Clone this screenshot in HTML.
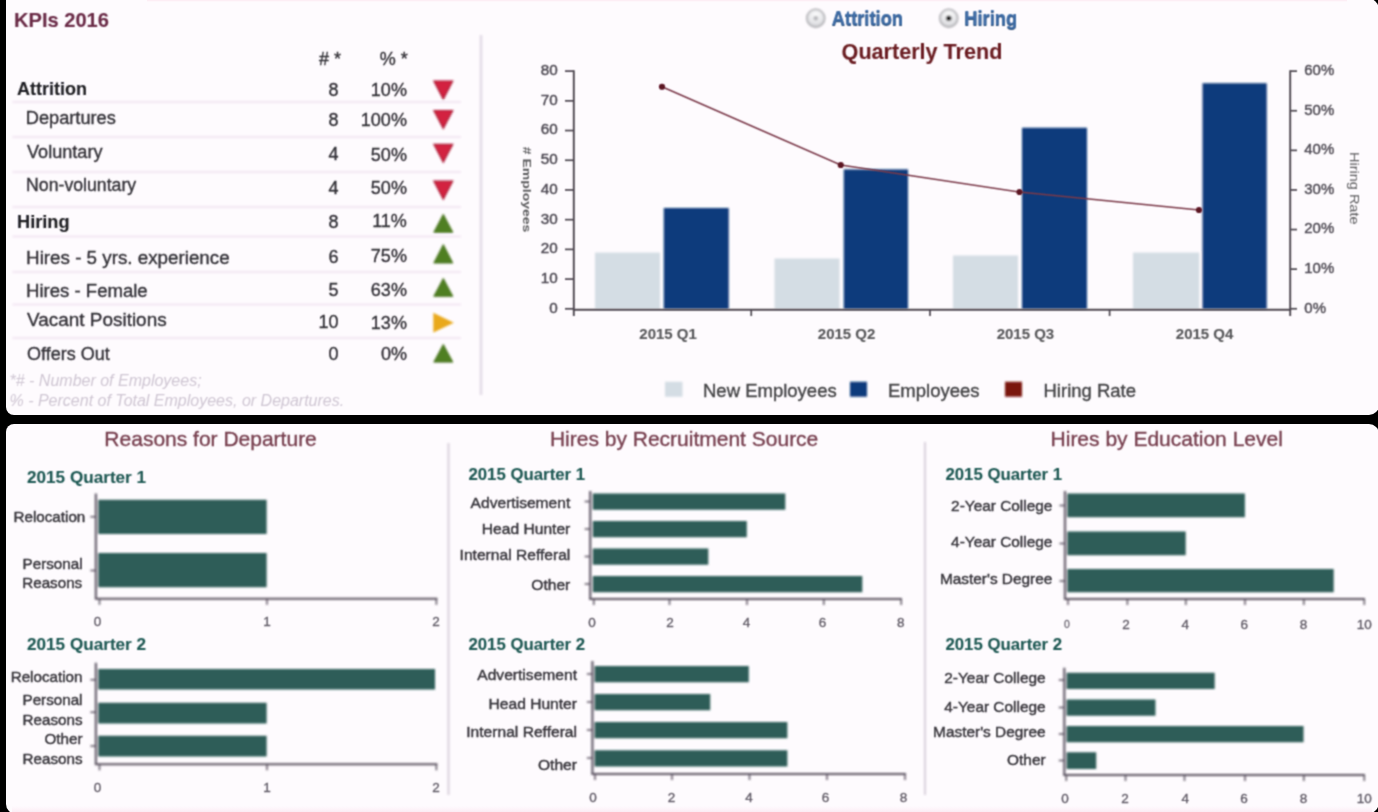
<!DOCTYPE html>
<html><head><meta charset="utf-8"><title>KPIs 2016</title>
<style>
html,body{margin:0;padding:0;background:#000;}
body{width:1378px;height:812px;overflow:hidden;}
svg{display:block;position:absolute;left:0;top:0;}
svg text{font-family:"Liberation Sans",sans-serif;}
</style></head><body>
<svg width="1378" height="812" viewBox="0 0 1378 812">
<defs>
<radialGradient id="rg" cx="50%" cy="35%" r="70%"><stop offset="0" stop-color="#ffffff"/><stop offset="0.6" stop-color="#e4e4e7"/><stop offset="1" stop-color="#c4c4c8"/></radialGradient>
<filter id="tsoft" x="-1%" y="-1%" width="102%" height="102%"><feConvolveMatrix order="3" kernelMatrix="0.0509 0.1238 0.0509 0.1238 0.3012 0.1238 0.0509 0.1238 0.0509" divisor="1" edgeMode="none"/></filter>
<filter id="soft" x="-2%" y="-2%" width="104%" height="104%"><feGaussianBlur stdDeviation="0.8"/></filter>
</defs>
<rect x="0" y="0" width="1378" height="812" fill="#000"/>
<path d="M6,-2 L1367,-2 A12,12 0 0 1 1379,10 L1379,405 A10,10 0 0 1 1369,415 L14,415 A8,8 0 0 1 6,407 Z" fill="#fefbfe"/>
<path d="M14,424 L1369,424 A10,10 0 0 1 1379,434 L1379,802 A12,12 0 0 1 1367,814 L16,814 A10,10 0 0 1 6,804 L6,432 A8,8 0 0 1 14,424 Z" fill="#fefbfe"/>
<rect x="147" y="0" width="1200" height="1.3" fill="#fdeef5"/>
<linearGradient id="pg" x1="0" y1="0" x2="0" y2="1"><stop offset="0" stop-color="#fdeef6" stop-opacity="0"/><stop offset="1" stop-color="#fcecf4"/></linearGradient>
<rect x="12" y="806" width="1360" height="6" fill="url(#pg)"/>
<g filter="url(#soft)">
<polygon points="433.90000000000003,81.0 452.7,81.0 443.3,99.1" fill="#d3203f" stroke="#a91b34" stroke-width="1.2" stroke-linejoin="miter"/>
<polygon points="433.90000000000003,110.5 452.7,110.5 443.3,128.4" fill="#d3203f" stroke="#a91b34" stroke-width="1.2" stroke-linejoin="miter"/>
<polygon points="433.90000000000003,144.3 452.7,144.3 443.3,162.1" fill="#d3203f" stroke="#a91b34" stroke-width="1.2" stroke-linejoin="miter"/>
<polygon points="433.90000000000003,181.2 452.7,181.2 443.3,199.1" fill="#d3203f" stroke="#a91b34" stroke-width="1.2" stroke-linejoin="miter"/>
<polygon points="433.8,232.3 452.8,232.3 443.3,214.3" fill="#4f7f20" stroke="#46701f" stroke-width="1" stroke-linejoin="miter"/>
<polygon points="433.8,263.0 452.8,263.0 443.3,244.60000000000002" fill="#4f7f20" stroke="#46701f" stroke-width="1" stroke-linejoin="miter"/>
<polygon points="433.8,296.3 452.8,296.3 443.3,278.40000000000003" fill="#4f7f20" stroke="#46701f" stroke-width="1" stroke-linejoin="miter"/>
<polygon points="433.3,312.8 433.3,332.5 453.8,322.65" fill="#e9a91b"/>
<polygon points="433.8,362.1 452.8,362.1 443.3,344.40000000000003" fill="#4f7f20" stroke="#46701f" stroke-width="1" stroke-linejoin="miter"/>
<line x1="12.50" y1="102.00" x2="461.00" y2="102.00" stroke="#f3e6f3" stroke-width="1.8" />
<line x1="12.50" y1="137.00" x2="461.00" y2="137.00" stroke="#f3e6f3" stroke-width="1.8" />
<line x1="12.50" y1="172.00" x2="461.00" y2="172.00" stroke="#f3e6f3" stroke-width="1.8" />
<line x1="12.50" y1="207.00" x2="461.00" y2="207.00" stroke="#f3e6f3" stroke-width="1.8" />
<line x1="12.50" y1="236.50" x2="461.00" y2="236.50" stroke="#f3e6f3" stroke-width="1.8" />
<line x1="12.50" y1="272.00" x2="461.00" y2="272.00" stroke="#f3e6f3" stroke-width="1.8" />
<line x1="12.50" y1="304.50" x2="461.00" y2="304.50" stroke="#f3e6f3" stroke-width="1.8" />
<line x1="12.50" y1="338.00" x2="461.00" y2="338.00" stroke="#f3e6f3" stroke-width="1.8" />
<line x1="481.00" y1="35.00" x2="481.00" y2="395.00" stroke="#e2dbe6" stroke-width="2.6" />
<circle cx="815.75" cy="18.25" r="9" fill="url(#rg)" stroke="#a9a9ad" stroke-width="1.4"/>
<circle cx="815.75" cy="18.25" r="2.4" fill="#b9b9bd"/>
<circle cx="948.75" cy="18.25" r="9" fill="url(#rg)" stroke="#a9a9ad" stroke-width="1.4"/>
<circle cx="948.75" cy="18.25" r="2.8" fill="#1b1b1d"/>
<rect x="595.00" y="252.55" width="65.00" height="56.45" fill="#d4dde4" />
<rect x="663.75" y="207.99" width="65.00" height="101.01" fill="#0e3b7b" />
<rect x="774.50" y="258.49" width="65.00" height="50.51" fill="#d4dde4" />
<rect x="843.75" y="169.36" width="64.25" height="139.64" fill="#0e3b7b" />
<rect x="953.00" y="255.52" width="65.00" height="53.48" fill="#d4dde4" />
<rect x="1022.00" y="127.77" width="65.00" height="181.23" fill="#0e3b7b" />
<rect x="1133.00" y="252.55" width="66.25" height="56.45" fill="#d4dde4" />
<rect x="1202.50" y="83.20" width="64.25" height="225.80" fill="#0e3b7b" />
<rect x="665.00" y="381.75" width="17.50" height="15.00" fill="#d4dde4" />
<rect x="850.00" y="381.75" width="17.00" height="15.00" fill="#0e3b7b" />
<rect x="1005.00" y="381.75" width="17.00" height="15.00" fill="#7a1311" />
<line x1="448.50" y1="443.00" x2="448.50" y2="795.00" stroke="#d9d0dc" stroke-width="2" />
<line x1="925.00" y1="442.00" x2="925.00" y2="795.00" stroke="#d9d0dc" stroke-width="2" />
<rect x="98.25" y="499.75" width="168.40" height="34.25" fill="#2f5d58" />
<rect x="98.25" y="553.00" width="168.40" height="34.25" fill="#2f5d58" />
<line x1="95.90" y1="493.50" x2="95.90" y2="598.80" stroke="#6a6371" stroke-width="2.3" />
<line x1="94.90" y1="598.80" x2="437.40" y2="598.80" stroke="#5b5360" stroke-width="2.0" />
<line x1="99.50" y1="598.30" x2="99.50" y2="604.80" stroke="#5b5360" stroke-width="1.5" />
<line x1="267.00" y1="598.30" x2="267.00" y2="604.80" stroke="#5b5360" stroke-width="1.5" />
<line x1="436.40" y1="598.30" x2="436.40" y2="604.80" stroke="#5b5360" stroke-width="1.5" />
<line x1="90.40" y1="516.75" x2="95.90" y2="516.75" stroke="#5b5360" stroke-width="1.5" />
<line x1="90.40" y1="570.50" x2="95.90" y2="570.50" stroke="#5b5360" stroke-width="1.5" />
<rect x="98.25" y="669.00" width="336.80" height="20.50" fill="#2f5d58" />
<rect x="98.25" y="702.75" width="168.40" height="20.75" fill="#2f5d58" />
<rect x="98.25" y="735.75" width="168.40" height="20.75" fill="#2f5d58" />
<line x1="95.90" y1="662.75" x2="95.90" y2="764.30" stroke="#6a6371" stroke-width="2.3" />
<line x1="94.90" y1="764.30" x2="437.40" y2="764.30" stroke="#5b5360" stroke-width="2.0" />
<line x1="99.50" y1="763.80" x2="99.50" y2="770.30" stroke="#5b5360" stroke-width="1.5" />
<line x1="267.00" y1="763.80" x2="267.00" y2="770.30" stroke="#5b5360" stroke-width="1.5" />
<line x1="436.40" y1="763.80" x2="436.40" y2="770.30" stroke="#5b5360" stroke-width="1.5" />
<line x1="90.40" y1="679.75" x2="95.90" y2="679.75" stroke="#5b5360" stroke-width="1.5" />
<line x1="90.40" y1="712.25" x2="95.90" y2="712.25" stroke="#5b5360" stroke-width="1.5" />
<line x1="90.40" y1="746.00" x2="95.90" y2="746.00" stroke="#5b5360" stroke-width="1.5" />
<rect x="592.80" y="493.50" width="192.50" height="16.25" fill="#2f5d58" />
<rect x="592.80" y="521.00" width="154.00" height="16.25" fill="#2f5d58" />
<rect x="592.80" y="548.50" width="115.50" height="16.25" fill="#2f5d58" />
<rect x="592.80" y="576.00" width="269.50" height="16.25" fill="#2f5d58" />
<line x1="590.20" y1="491.00" x2="590.20" y2="599.00" stroke="#6a6371" stroke-width="2.3" />
<line x1="589.20" y1="599.00" x2="902.00" y2="599.00" stroke="#5b5360" stroke-width="2.0" />
<line x1="593.75" y1="598.50" x2="593.75" y2="605.00" stroke="#5b5360" stroke-width="1.5" />
<line x1="669.50" y1="598.50" x2="669.50" y2="605.00" stroke="#5b5360" stroke-width="1.5" />
<line x1="747.00" y1="598.50" x2="747.00" y2="605.00" stroke="#5b5360" stroke-width="1.5" />
<line x1="823.75" y1="598.50" x2="823.75" y2="605.00" stroke="#5b5360" stroke-width="1.5" />
<line x1="901.25" y1="598.50" x2="901.25" y2="605.00" stroke="#5b5360" stroke-width="1.5" />
<line x1="584.70" y1="501.50" x2="590.20" y2="501.50" stroke="#5b5360" stroke-width="1.5" />
<line x1="584.70" y1="529.00" x2="590.20" y2="529.00" stroke="#5b5360" stroke-width="1.5" />
<line x1="584.70" y1="556.50" x2="590.20" y2="556.50" stroke="#5b5360" stroke-width="1.5" />
<line x1="584.70" y1="584.00" x2="590.20" y2="584.00" stroke="#5b5360" stroke-width="1.5" />
<rect x="594.60" y="666.00" width="154.20" height="16.25" fill="#2f5d58" />
<rect x="594.60" y="694.00" width="115.65" height="16.25" fill="#2f5d58" />
<rect x="594.60" y="722.00" width="192.75" height="16.25" fill="#2f5d58" />
<rect x="594.60" y="750.25" width="192.75" height="16.25" fill="#2f5d58" />
<line x1="592.40" y1="661.00" x2="592.40" y2="774.00" stroke="#6a6371" stroke-width="2.3" />
<line x1="591.40" y1="774.00" x2="906.00" y2="774.00" stroke="#5b5360" stroke-width="2.0" />
<line x1="595.00" y1="773.50" x2="595.00" y2="780.00" stroke="#5b5360" stroke-width="1.5" />
<line x1="672.00" y1="773.50" x2="672.00" y2="780.00" stroke="#5b5360" stroke-width="1.5" />
<line x1="749.50" y1="773.50" x2="749.50" y2="780.00" stroke="#5b5360" stroke-width="1.5" />
<line x1="827.00" y1="773.50" x2="827.00" y2="780.00" stroke="#5b5360" stroke-width="1.5" />
<line x1="905.00" y1="773.50" x2="905.00" y2="780.00" stroke="#5b5360" stroke-width="1.5" />
<line x1="586.90" y1="674.00" x2="592.40" y2="674.00" stroke="#5b5360" stroke-width="1.5" />
<line x1="586.90" y1="702.00" x2="592.40" y2="702.00" stroke="#5b5360" stroke-width="1.5" />
<line x1="586.90" y1="730.00" x2="592.40" y2="730.00" stroke="#5b5360" stroke-width="1.5" />
<line x1="586.90" y1="758.00" x2="592.40" y2="758.00" stroke="#5b5360" stroke-width="1.5" />
<rect x="1067.30" y="493.50" width="177.60" height="23.75" fill="#2f5d58" />
<rect x="1067.30" y="531.50" width="118.40" height="23.75" fill="#2f5d58" />
<rect x="1067.30" y="569.00" width="266.40" height="23.25" fill="#2f5d58" />
<line x1="1065.00" y1="491.00" x2="1065.00" y2="599.00" stroke="#6a6371" stroke-width="2.3" />
<line x1="1064.00" y1="599.00" x2="1365.00" y2="599.00" stroke="#5b5360" stroke-width="2.0" />
<line x1="1068.00" y1="598.50" x2="1068.00" y2="605.00" stroke="#5b5360" stroke-width="1.5" />
<line x1="1127.40" y1="598.50" x2="1127.40" y2="605.00" stroke="#5b5360" stroke-width="1.5" />
<line x1="1185.80" y1="598.50" x2="1185.80" y2="605.00" stroke="#5b5360" stroke-width="1.5" />
<line x1="1245.00" y1="598.50" x2="1245.00" y2="605.00" stroke="#5b5360" stroke-width="1.5" />
<line x1="1303.80" y1="598.50" x2="1303.80" y2="605.00" stroke="#5b5360" stroke-width="1.5" />
<line x1="1364.30" y1="598.50" x2="1364.30" y2="605.00" stroke="#5b5360" stroke-width="1.5" />
<line x1="1059.50" y1="505.50" x2="1065.00" y2="505.50" stroke="#5b5360" stroke-width="1.5" />
<line x1="1059.50" y1="543.50" x2="1065.00" y2="543.50" stroke="#5b5360" stroke-width="1.5" />
<line x1="1059.50" y1="581.00" x2="1065.00" y2="581.00" stroke="#5b5360" stroke-width="1.5" />
<rect x="1066.60" y="672.75" width="148.10" height="16.25" fill="#2f5d58" />
<rect x="1066.60" y="699.50" width="88.86" height="16.25" fill="#2f5d58" />
<rect x="1066.60" y="726.00" width="236.96" height="16.25" fill="#2f5d58" />
<rect x="1066.60" y="752.25" width="29.62" height="16.75" fill="#2f5d58" />
<line x1="1064.30" y1="667.75" x2="1064.30" y2="775.00" stroke="#6a6371" stroke-width="2.3" />
<line x1="1063.30" y1="775.00" x2="1365.00" y2="775.00" stroke="#5b5360" stroke-width="2.0" />
<line x1="1066.30" y1="774.50" x2="1066.30" y2="781.00" stroke="#5b5360" stroke-width="1.5" />
<line x1="1125.50" y1="774.50" x2="1125.50" y2="781.00" stroke="#5b5360" stroke-width="1.5" />
<line x1="1184.50" y1="774.50" x2="1184.50" y2="781.00" stroke="#5b5360" stroke-width="1.5" />
<line x1="1245.00" y1="774.50" x2="1245.00" y2="781.00" stroke="#5b5360" stroke-width="1.5" />
<line x1="1303.80" y1="774.50" x2="1303.80" y2="781.00" stroke="#5b5360" stroke-width="1.5" />
<line x1="1364.30" y1="774.50" x2="1364.30" y2="781.00" stroke="#5b5360" stroke-width="1.5" />
<line x1="1058.80" y1="680.00" x2="1064.30" y2="680.00" stroke="#5b5360" stroke-width="1.5" />
<line x1="1058.80" y1="707.50" x2="1064.30" y2="707.50" stroke="#5b5360" stroke-width="1.5" />
<line x1="1058.80" y1="734.00" x2="1064.30" y2="734.00" stroke="#5b5360" stroke-width="1.5" />
<line x1="1058.80" y1="760.50" x2="1064.30" y2="760.50" stroke="#5b5360" stroke-width="1.5" />
</g>
<g filter="url(#tsoft)">
<text x="14.0" y="26.8" font-size="20.1" fill="#6a2c47" font-weight="bold" font-style="normal" text-anchor="start" stroke="#6a2c47" stroke-width="0.12" >KPIs 2016</text>
<text x="341" y="64.5" font-size="18" fill="#343238" font-weight="normal" font-style="normal" text-anchor="end" stroke="#343238" stroke-width="0.35" ># *</text>
<text x="407.8" y="64.5" font-size="18" fill="#343238" font-weight="normal" font-style="normal" text-anchor="end" stroke="#343238" stroke-width="0.35" >% *</text>
<text x="17.0" y="94.5" font-size="18" fill="#1f1f22" font-weight="bold" font-style="normal" text-anchor="start" stroke="#1f1f22" stroke-width="0.12"  textLength="69.98" lengthAdjust="spacingAndGlyphs">Attrition</text>
<text x="338.6" y="96" font-size="18" fill="#343238" font-weight="normal" font-style="normal" text-anchor="end" stroke="#343238" stroke-width="0.35" >8</text>
<text x="406.9" y="96" font-size="18" fill="#343238" font-weight="normal" font-style="normal" text-anchor="end" stroke="#343238" stroke-width="0.35" >10%</text>
<text x="25.8" y="123.75" font-size="18" fill="#343238" font-weight="normal" font-style="normal" text-anchor="start" stroke="#343238" stroke-width="0.35"  textLength="90.02" lengthAdjust="spacingAndGlyphs">Departures</text>
<text x="338.6" y="125.5" font-size="18" fill="#343238" font-weight="normal" font-style="normal" text-anchor="end" stroke="#343238" stroke-width="0.35" >8</text>
<text x="406.9" y="125.6" font-size="18" fill="#343238" font-weight="normal" font-style="normal" text-anchor="end" stroke="#343238" stroke-width="0.35" >100%</text>
<text x="27.0" y="158" font-size="18" fill="#343238" font-weight="normal" font-style="normal" text-anchor="start" stroke="#343238" stroke-width="0.35"  textLength="75.50" lengthAdjust="spacingAndGlyphs">Voluntary</text>
<text x="338.6" y="160" font-size="18" fill="#343238" font-weight="normal" font-style="normal" text-anchor="end" stroke="#343238" stroke-width="0.35" >4</text>
<text x="406.9" y="160.5" font-size="18" fill="#343238" font-weight="normal" font-style="normal" text-anchor="end" stroke="#343238" stroke-width="0.35" >50%</text>
<text x="26.1" y="191" font-size="18" fill="#343238" font-weight="normal" font-style="normal" text-anchor="start" stroke="#343238" stroke-width="0.35"  textLength="110.04" lengthAdjust="spacingAndGlyphs">Non-voluntary</text>
<text x="338.6" y="193.75" font-size="18" fill="#343238" font-weight="normal" font-style="normal" text-anchor="end" stroke="#343238" stroke-width="0.35" >4</text>
<text x="406.9" y="193.8" font-size="18" fill="#343238" font-weight="normal" font-style="normal" text-anchor="end" stroke="#343238" stroke-width="0.35" >50%</text>
<text x="17.0" y="228" font-size="18" fill="#1f1f22" font-weight="bold" font-style="normal" text-anchor="start" stroke="#1f1f22" stroke-width="0.12"  textLength="52.52" lengthAdjust="spacingAndGlyphs">Hiring</text>
<text x="338.6" y="228" font-size="18" fill="#343238" font-weight="normal" font-style="normal" text-anchor="end" stroke="#343238" stroke-width="0.35" >8</text>
<text x="406.9" y="227.3" font-size="18" fill="#343238" font-weight="normal" font-style="normal" text-anchor="end" stroke="#343238" stroke-width="0.35" >11%</text>
<text x="26.1" y="264.25" font-size="18" fill="#343238" font-weight="normal" font-style="normal" text-anchor="start" stroke="#343238" stroke-width="0.35"  textLength="203.57" lengthAdjust="spacingAndGlyphs">Hires - 5 yrs. experience</text>
<text x="338.6" y="263" font-size="18" fill="#343238" font-weight="normal" font-style="normal" text-anchor="end" stroke="#343238" stroke-width="0.35" >6</text>
<text x="406.9" y="262.3" font-size="18" fill="#343238" font-weight="normal" font-style="normal" text-anchor="end" stroke="#343238" stroke-width="0.35" >75%</text>
<text x="26.1" y="296.75" font-size="18" fill="#343238" font-weight="normal" font-style="normal" text-anchor="start" stroke="#343238" stroke-width="0.35"  textLength="121.56" lengthAdjust="spacingAndGlyphs">Hires - Female</text>
<text x="338.6" y="296.25" font-size="18" fill="#343238" font-weight="normal" font-style="normal" text-anchor="end" stroke="#343238" stroke-width="0.35" >5</text>
<text x="406.9" y="296.2" font-size="18" fill="#343238" font-weight="normal" font-style="normal" text-anchor="end" stroke="#343238" stroke-width="0.35" >63%</text>
<text x="27.0" y="326" font-size="18" fill="#343238" font-weight="normal" font-style="normal" text-anchor="start" stroke="#343238" stroke-width="0.35"  textLength="139.65" lengthAdjust="spacingAndGlyphs">Vacant Positions</text>
<text x="338.6" y="328" font-size="18" fill="#343238" font-weight="normal" font-style="normal" text-anchor="end" stroke="#343238" stroke-width="0.35" >10</text>
<text x="406.9" y="329.3" font-size="18" fill="#343238" font-weight="normal" font-style="normal" text-anchor="end" stroke="#343238" stroke-width="0.35" >13%</text>
<text x="27.0" y="360" font-size="18" fill="#343238" font-weight="normal" font-style="normal" text-anchor="start" stroke="#343238" stroke-width="0.35"  textLength="82.70" lengthAdjust="spacingAndGlyphs">Offers Out</text>
<text x="338.6" y="360" font-size="18" fill="#343238" font-weight="normal" font-style="normal" text-anchor="end" stroke="#343238" stroke-width="0.35" >0</text>
<text x="406.9" y="360.2" font-size="18" fill="#343238" font-weight="normal" font-style="normal" text-anchor="end" stroke="#343238" stroke-width="0.35" >0%</text>
<text x="9.5" y="386.4" font-size="16" fill="#cfc6d3" font-weight="normal" font-style="italic" text-anchor="start" stroke="#cfc6d3" stroke-width="0" >*# - Number of Employees;</text>
<text x="9.5" y="405.8" font-size="16" fill="#cfc6d3" font-weight="normal" font-style="italic" text-anchor="start" stroke="#cfc6d3" stroke-width="0" >% - Percent of Total Employees, or Departures.</text>
<text x="831.8" y="25.9" font-size="19.5" fill="#23466f" font-weight="bold" font-style="normal" text-anchor="start" stroke="#23466f" stroke-width="0.12"  textLength="71.26" lengthAdjust="spacingAndGlyphs">Attrition</text>
<text x="964.3" y="25.9" font-size="19.5" fill="#23466f" font-weight="bold" font-style="normal" text-anchor="start" stroke="#23466f" stroke-width="0.12"  textLength="52.95" lengthAdjust="spacingAndGlyphs">Hiring</text>
<text x="831.8" y="25.2" font-size="19.5" fill="#3f6da6" font-weight="bold" font-style="normal" text-anchor="start" stroke="#3f6da6" stroke-width="0.12"  textLength="71.26" lengthAdjust="spacingAndGlyphs">Attrition</text>
<text x="964.3" y="25.2" font-size="19.5" fill="#3f6da6" font-weight="bold" font-style="normal" text-anchor="start" stroke="#3f6da6" stroke-width="0.12"  textLength="52.95" lengthAdjust="spacingAndGlyphs">Hiring</text>
<text x="922" y="58.8" font-size="21.6" fill="#6b1d22" font-weight="bold" font-style="normal" text-anchor="middle" stroke="#6b1d22" stroke-width="0.12" >Quarterly Trend</text>
<line x1="573.80" y1="70.30" x2="573.80" y2="316.00" stroke="#4d4650" stroke-width="1.9" />
<line x1="1290.20" y1="70.30" x2="1290.20" y2="316.00" stroke="#4d4650" stroke-width="1.9" />
<line x1="572.90" y1="309.70" x2="1291.10" y2="309.70" stroke="#4d4650" stroke-width="2.0" />
<line x1="751.25" y1="309.00" x2="751.25" y2="316.00" stroke="#4d4650" stroke-width="1.7" />
<line x1="930.00" y1="309.00" x2="930.00" y2="316.00" stroke="#4d4650" stroke-width="1.7" />
<line x1="1109.60" y1="309.00" x2="1109.60" y2="316.00" stroke="#4d4650" stroke-width="1.7" />
<line x1="565.00" y1="308.80" x2="573.80" y2="308.80" stroke="#4d4650" stroke-width="1.7" />
<text x="557.8" y="312.7" font-size="14" fill="#4f4b54" font-weight="normal" font-style="normal" text-anchor="end" stroke="#4f4b54" stroke-width="0.4"  textLength="8.49" lengthAdjust="spacingAndGlyphs">0</text>
<line x1="565.00" y1="279.09" x2="573.80" y2="279.09" stroke="#4d4650" stroke-width="1.7" />
<text x="557.8" y="282.99" font-size="14" fill="#4f4b54" font-weight="normal" font-style="normal" text-anchor="end" stroke="#4f4b54" stroke-width="0.4"  textLength="16.97" lengthAdjust="spacingAndGlyphs">10</text>
<line x1="565.00" y1="249.38" x2="573.80" y2="249.38" stroke="#4d4650" stroke-width="1.7" />
<text x="557.8" y="253.28" font-size="14" fill="#4f4b54" font-weight="normal" font-style="normal" text-anchor="end" stroke="#4f4b54" stroke-width="0.4"  textLength="16.97" lengthAdjust="spacingAndGlyphs">20</text>
<line x1="565.00" y1="219.67" x2="573.80" y2="219.67" stroke="#4d4650" stroke-width="1.7" />
<text x="557.8" y="223.57000000000002" font-size="14" fill="#4f4b54" font-weight="normal" font-style="normal" text-anchor="end" stroke="#4f4b54" stroke-width="0.4"  textLength="16.97" lengthAdjust="spacingAndGlyphs">30</text>
<line x1="565.00" y1="189.96" x2="573.80" y2="189.96" stroke="#4d4650" stroke-width="1.7" />
<text x="557.8" y="193.86" font-size="14" fill="#4f4b54" font-weight="normal" font-style="normal" text-anchor="end" stroke="#4f4b54" stroke-width="0.4"  textLength="16.97" lengthAdjust="spacingAndGlyphs">40</text>
<line x1="565.00" y1="160.25" x2="573.80" y2="160.25" stroke="#4d4650" stroke-width="1.7" />
<text x="557.8" y="164.15" font-size="14" fill="#4f4b54" font-weight="normal" font-style="normal" text-anchor="end" stroke="#4f4b54" stroke-width="0.4"  textLength="16.97" lengthAdjust="spacingAndGlyphs">50</text>
<line x1="565.00" y1="130.54" x2="573.80" y2="130.54" stroke="#4d4650" stroke-width="1.7" />
<text x="557.8" y="134.44000000000003" font-size="14" fill="#4f4b54" font-weight="normal" font-style="normal" text-anchor="end" stroke="#4f4b54" stroke-width="0.4"  textLength="16.97" lengthAdjust="spacingAndGlyphs">60</text>
<line x1="565.00" y1="100.83" x2="573.80" y2="100.83" stroke="#4d4650" stroke-width="1.7" />
<text x="557.8" y="104.73" font-size="14" fill="#4f4b54" font-weight="normal" font-style="normal" text-anchor="end" stroke="#4f4b54" stroke-width="0.4"  textLength="16.97" lengthAdjust="spacingAndGlyphs">70</text>
<line x1="565.00" y1="71.12" x2="573.80" y2="71.12" stroke="#4d4650" stroke-width="1.7" />
<text x="557.8" y="75.02" font-size="14" fill="#4f4b54" font-weight="normal" font-style="normal" text-anchor="end" stroke="#4f4b54" stroke-width="0.4"  textLength="16.97" lengthAdjust="spacingAndGlyphs">80</text>
<line x1="1290.20" y1="308.75" x2="1297.00" y2="308.75" stroke="#4d4650" stroke-width="1.7" />
<text x="1304.3" y="312.65" font-size="14" fill="#4f4b54" font-weight="normal" font-style="normal" text-anchor="start" stroke="#4f4b54" stroke-width="0.4"  textLength="21.65" lengthAdjust="spacingAndGlyphs">0%</text>
<line x1="1290.20" y1="269.15" x2="1297.00" y2="269.15" stroke="#4d4650" stroke-width="1.7" />
<text x="1304.3" y="273.04999999999995" font-size="14" fill="#4f4b54" font-weight="normal" font-style="normal" text-anchor="start" stroke="#4f4b54" stroke-width="0.4"  textLength="29.98" lengthAdjust="spacingAndGlyphs">10%</text>
<line x1="1290.20" y1="229.55" x2="1297.00" y2="229.55" stroke="#4d4650" stroke-width="1.7" />
<text x="1304.3" y="233.45000000000002" font-size="14" fill="#4f4b54" font-weight="normal" font-style="normal" text-anchor="start" stroke="#4f4b54" stroke-width="0.4"  textLength="29.98" lengthAdjust="spacingAndGlyphs">20%</text>
<line x1="1290.20" y1="189.95" x2="1297.00" y2="189.95" stroke="#4d4650" stroke-width="1.7" />
<text x="1304.3" y="193.85" font-size="14" fill="#4f4b54" font-weight="normal" font-style="normal" text-anchor="start" stroke="#4f4b54" stroke-width="0.4"  textLength="29.98" lengthAdjust="spacingAndGlyphs">30%</text>
<line x1="1290.20" y1="150.35" x2="1297.00" y2="150.35" stroke="#4d4650" stroke-width="1.7" />
<text x="1304.3" y="154.25" font-size="14" fill="#4f4b54" font-weight="normal" font-style="normal" text-anchor="start" stroke="#4f4b54" stroke-width="0.4"  textLength="29.98" lengthAdjust="spacingAndGlyphs">40%</text>
<line x1="1290.20" y1="110.75" x2="1297.00" y2="110.75" stroke="#4d4650" stroke-width="1.7" />
<text x="1304.3" y="114.65" font-size="14" fill="#4f4b54" font-weight="normal" font-style="normal" text-anchor="start" stroke="#4f4b54" stroke-width="0.4"  textLength="29.98" lengthAdjust="spacingAndGlyphs">50%</text>
<line x1="1290.20" y1="71.15" x2="1297.00" y2="71.15" stroke="#4d4650" stroke-width="1.7" />
<text x="1304.3" y="75.04999999999998" font-size="14" fill="#4f4b54" font-weight="normal" font-style="normal" text-anchor="start" stroke="#4f4b54" stroke-width="0.4"  textLength="29.98" lengthAdjust="spacingAndGlyphs">60%</text>
<polyline points="662,86.75 840.75,165 1019.5,192 1199,210" fill="none" stroke="#7a3848" stroke-width="1.5"/>
<circle cx="662" cy="86.75" r="3.1" fill="#5c1424"/>
<circle cx="840.75" cy="165" r="3.1" fill="#5c1424"/>
<circle cx="1019.5" cy="192" r="3.1" fill="#5c1424"/>
<circle cx="1199" cy="210" r="3.1" fill="#5c1424"/>
<text x="668.1" y="338.8" font-size="15" fill="#59595b" font-weight="bold" font-style="normal" text-anchor="middle" stroke="#59595b" stroke-width="0.12" >2015 Q1</text>
<text x="846.6" y="338.8" font-size="15" fill="#59595b" font-weight="bold" font-style="normal" text-anchor="middle" stroke="#59595b" stroke-width="0.12" >2015 Q2</text>
<text x="1025.4" y="338.8" font-size="15" fill="#59595b" font-weight="bold" font-style="normal" text-anchor="middle" stroke="#59595b" stroke-width="0.12" >2015 Q3</text>
<text x="1204.6" y="338.8" font-size="15" fill="#59595b" font-weight="bold" font-style="normal" text-anchor="middle" stroke="#59595b" stroke-width="0.12" >2015 Q4</text>
<text transform="translate(523,146.8) rotate(90)" font-size="10.5" font-weight="bold" fill="#5a5a5c" textLength="85.5" lengthAdjust="spacingAndGlyphs"># Employees</text>
<text transform="translate(1349.5,152) rotate(90)" font-size="12" fill="#5a5a5c" textLength="72.5" lengthAdjust="spacingAndGlyphs">Hiring Rate</text>
<text x="703" y="396.8" font-size="18.5" fill="#444446" font-weight="normal" font-style="normal" text-anchor="start" stroke="#444446" stroke-width="0.35" >New Employees</text>
<text x="888" y="396.8" font-size="18.5" fill="#444446" font-weight="normal" font-style="normal" text-anchor="start" stroke="#444446" stroke-width="0.35" >Employees</text>
<text x="1043.5" y="396.8" font-size="18.5" fill="#444446" font-weight="normal" font-style="normal" text-anchor="start" stroke="#444446" stroke-width="0.35" >Hiring Rate</text>
<text x="210.6" y="446" font-size="21" fill="#784050" font-weight="normal" font-style="normal" text-anchor="middle" stroke="#784050" stroke-width="0.35" >Reasons for Departure</text>
<text x="684.1" y="446" font-size="21" fill="#784050" font-weight="normal" font-style="normal" text-anchor="middle" stroke="#784050" stroke-width="0.35" >Hires by Recruitment Source</text>
<text x="1166.7" y="446" font-size="21" fill="#784050" font-weight="normal" font-style="normal" text-anchor="middle" stroke="#784050" stroke-width="0.35" >Hires by Education Level</text>
<text x="27.0" y="483" font-size="16.8" fill="#1f5853" font-weight="bold" font-style="normal" text-anchor="start" stroke="#1f5853" stroke-width="0.12"  textLength="119.08" lengthAdjust="spacingAndGlyphs">2015 Quarter 1</text>
<text x="85.3" y="522.3" font-size="14.06" fill="#38363c" font-weight="normal" font-style="normal" text-anchor="end" stroke="#38363c" stroke-width="0.4"  textLength="71.82" lengthAdjust="spacingAndGlyphs">Relocation</text>
<text x="82.6" y="568.5" font-size="14.06" fill="#38363c" font-weight="normal" font-style="normal" text-anchor="end" stroke="#38363c" stroke-width="0.4"  textLength="59.99" lengthAdjust="spacingAndGlyphs">Personal</text>
<text x="82.2" y="588" font-size="14.06" fill="#38363c" font-weight="normal" font-style="normal" text-anchor="end" stroke="#38363c" stroke-width="0.4"  textLength="59.99" lengthAdjust="spacingAndGlyphs">Reasons</text>
<text x="97.5" y="626" font-size="13.5" fill="#625d68" font-weight="normal" font-style="normal" text-anchor="middle" stroke="#625d68" stroke-width="0.35" >0</text>
<text x="267" y="626" font-size="13.5" fill="#625d68" font-weight="normal" font-style="normal" text-anchor="middle" stroke="#625d68" stroke-width="0.35" >1</text>
<text x="436" y="626" font-size="13.5" fill="#625d68" font-weight="normal" font-style="normal" text-anchor="middle" stroke="#625d68" stroke-width="0.35" >2</text>
<text x="27.0" y="650.3" font-size="16.8" fill="#1f5853" font-weight="bold" font-style="normal" text-anchor="start" stroke="#1f5853" stroke-width="0.12"  textLength="119.08" lengthAdjust="spacingAndGlyphs">2015 Quarter 2</text>
<text x="82.5" y="682" font-size="14.06" fill="#38363c" font-weight="normal" font-style="normal" text-anchor="end" stroke="#38363c" stroke-width="0.4"  textLength="71.82" lengthAdjust="spacingAndGlyphs">Relocation</text>
<text x="82.5" y="704.75" font-size="14.06" fill="#38363c" font-weight="normal" font-style="normal" text-anchor="end" stroke="#38363c" stroke-width="0.4"  textLength="59.99" lengthAdjust="spacingAndGlyphs">Personal</text>
<text x="82.5" y="724.5" font-size="14.06" fill="#38363c" font-weight="normal" font-style="normal" text-anchor="end" stroke="#38363c" stroke-width="0.4"  textLength="59.99" lengthAdjust="spacingAndGlyphs">Reasons</text>
<text x="82.5" y="744" font-size="14.06" fill="#38363c" font-weight="normal" font-style="normal" text-anchor="end" stroke="#38363c" stroke-width="0.4"  textLength="38.02" lengthAdjust="spacingAndGlyphs">Other</text>
<text x="82.5" y="763.5" font-size="14.06" fill="#38363c" font-weight="normal" font-style="normal" text-anchor="end" stroke="#38363c" stroke-width="0.4"  textLength="59.99" lengthAdjust="spacingAndGlyphs">Reasons</text>
<text x="97.5" y="792.3" font-size="13.5" fill="#625d68" font-weight="normal" font-style="normal" text-anchor="middle" stroke="#625d68" stroke-width="0.35" >0</text>
<text x="267" y="792.3" font-size="13.5" fill="#625d68" font-weight="normal" font-style="normal" text-anchor="middle" stroke="#625d68" stroke-width="0.35" >1</text>
<text x="436" y="792.3" font-size="13.5" fill="#625d68" font-weight="normal" font-style="normal" text-anchor="middle" stroke="#625d68" stroke-width="0.35" >2</text>
<text x="468.4" y="479.8" font-size="16.8" fill="#1f5853" font-weight="bold" font-style="normal" text-anchor="start" stroke="#1f5853" stroke-width="0.12"  textLength="116.74" lengthAdjust="spacingAndGlyphs">2015 Quarter 1</text>
<text x="570.3" y="508" font-size="14.43" fill="#38363c" font-weight="normal" font-style="normal" text-anchor="end" stroke="#38363c" stroke-width="0.4"  textLength="99.71" lengthAdjust="spacingAndGlyphs">Advertisement</text>
<text x="570.3" y="533.5" font-size="14.43" fill="#38363c" font-weight="normal" font-style="normal" text-anchor="end" stroke="#38363c" stroke-width="0.4"  textLength="88.45" lengthAdjust="spacingAndGlyphs">Head Hunter</text>
<text x="570.3" y="560.3" font-size="14.43" fill="#38363c" font-weight="normal" font-style="normal" text-anchor="end" stroke="#38363c" stroke-width="0.4"  textLength="110.71" lengthAdjust="spacingAndGlyphs">Internal Refferal</text>
<text x="570.3" y="589.8" font-size="14.43" fill="#38363c" font-weight="normal" font-style="normal" text-anchor="end" stroke="#38363c" stroke-width="0.4"  textLength="39.02" lengthAdjust="spacingAndGlyphs">Other</text>
<text x="592" y="627" font-size="13.5" fill="#625d68" font-weight="normal" font-style="normal" text-anchor="middle" stroke="#625d68" stroke-width="0.35" >0</text>
<text x="670" y="627" font-size="13.5" fill="#625d68" font-weight="normal" font-style="normal" text-anchor="middle" stroke="#625d68" stroke-width="0.35" >2</text>
<text x="746.6" y="627" font-size="13.5" fill="#625d68" font-weight="normal" font-style="normal" text-anchor="middle" stroke="#625d68" stroke-width="0.35" >4</text>
<text x="822.5" y="627" font-size="13.5" fill="#625d68" font-weight="normal" font-style="normal" text-anchor="middle" stroke="#625d68" stroke-width="0.35" >6</text>
<text x="900.7" y="627" font-size="13.5" fill="#625d68" font-weight="normal" font-style="normal" text-anchor="middle" stroke="#625d68" stroke-width="0.35" >8</text>
<text x="468.4" y="650.3" font-size="16.8" fill="#1f5853" font-weight="bold" font-style="normal" text-anchor="start" stroke="#1f5853" stroke-width="0.12"  textLength="116.74" lengthAdjust="spacingAndGlyphs">2015 Quarter 2</text>
<text x="577" y="680.3" font-size="14.43" fill="#38363c" font-weight="normal" font-style="normal" text-anchor="end" stroke="#38363c" stroke-width="0.4"  textLength="99.71" lengthAdjust="spacingAndGlyphs">Advertisement</text>
<text x="577" y="708.5" font-size="14.43" fill="#38363c" font-weight="normal" font-style="normal" text-anchor="end" stroke="#38363c" stroke-width="0.4"  textLength="88.45" lengthAdjust="spacingAndGlyphs">Head Hunter</text>
<text x="577" y="736.5" font-size="14.43" fill="#38363c" font-weight="normal" font-style="normal" text-anchor="end" stroke="#38363c" stroke-width="0.4"  textLength="110.71" lengthAdjust="spacingAndGlyphs">Internal Refferal</text>
<text x="577" y="770.3" font-size="14.43" fill="#38363c" font-weight="normal" font-style="normal" text-anchor="end" stroke="#38363c" stroke-width="0.4"  textLength="39.02" lengthAdjust="spacingAndGlyphs">Other</text>
<text x="593" y="801.5" font-size="13.5" fill="#625d68" font-weight="normal" font-style="normal" text-anchor="middle" stroke="#625d68" stroke-width="0.35" >0</text>
<text x="671.5" y="801.5" font-size="13.5" fill="#625d68" font-weight="normal" font-style="normal" text-anchor="middle" stroke="#625d68" stroke-width="0.35" >2</text>
<text x="749" y="801.5" font-size="13.5" fill="#625d68" font-weight="normal" font-style="normal" text-anchor="middle" stroke="#625d68" stroke-width="0.35" >4</text>
<text x="825.5" y="801.5" font-size="13.5" fill="#625d68" font-weight="normal" font-style="normal" text-anchor="middle" stroke="#625d68" stroke-width="0.35" >6</text>
<text x="903.5" y="801.5" font-size="13.5" fill="#625d68" font-weight="normal" font-style="normal" text-anchor="middle" stroke="#625d68" stroke-width="0.35" >8</text>
<text x="945.4" y="479.8" font-size="16.8" fill="#1f5853" font-weight="bold" font-style="normal" text-anchor="start" stroke="#1f5853" stroke-width="0.12"  textLength="116.74" lengthAdjust="spacingAndGlyphs">2015 Quarter 1</text>
<text x="1052.4" y="511" font-size="14.245000000000001" fill="#38363c" font-weight="normal" font-style="normal" text-anchor="end" stroke="#38363c" stroke-width="0.4"  textLength="101.32" lengthAdjust="spacingAndGlyphs">2-Year College</text>
<text x="1052.4" y="546.5" font-size="14.245000000000001" fill="#38363c" font-weight="normal" font-style="normal" text-anchor="end" stroke="#38363c" stroke-width="0.4"  textLength="101.32" lengthAdjust="spacingAndGlyphs">4-Year College</text>
<text x="1052.4" y="584" font-size="14.245000000000001" fill="#38363c" font-weight="normal" font-style="normal" text-anchor="end" stroke="#38363c" stroke-width="0.4"  textLength="112.50" lengthAdjust="spacingAndGlyphs">Master's Degree</text>
<text x="1067" y="627.7" font-size="10.5" fill="#746f7a" font-weight="normal" font-style="normal" text-anchor="middle" stroke="#746f7a" stroke-width="0.35" >0</text>
<text x="1126" y="628.5" font-size="13.5" fill="#625d68" font-weight="normal" font-style="normal" text-anchor="middle" stroke="#625d68" stroke-width="0.35" >2</text>
<text x="1185.2" y="628.5" font-size="13.5" fill="#625d68" font-weight="normal" font-style="normal" text-anchor="middle" stroke="#625d68" stroke-width="0.35" >4</text>
<text x="1244.2" y="628.5" font-size="13.5" fill="#625d68" font-weight="normal" font-style="normal" text-anchor="middle" stroke="#625d68" stroke-width="0.35" >6</text>
<text x="1303.6" y="628.5" font-size="13.5" fill="#625d68" font-weight="normal" font-style="normal" text-anchor="middle" stroke="#625d68" stroke-width="0.35" >8</text>
<text x="1364.3" y="628.5" font-size="13.5" fill="#625d68" font-weight="normal" font-style="normal" text-anchor="middle" stroke="#625d68" stroke-width="0.35" >10</text>
<text x="945.4" y="650.3" font-size="16.8" fill="#1f5853" font-weight="bold" font-style="normal" text-anchor="start" stroke="#1f5853" stroke-width="0.12"  textLength="116.74" lengthAdjust="spacingAndGlyphs">2015 Quarter 2</text>
<text x="1045.6" y="682.8" font-size="14.245000000000001" fill="#38363c" font-weight="normal" font-style="normal" text-anchor="end" stroke="#38363c" stroke-width="0.4"  textLength="101.32" lengthAdjust="spacingAndGlyphs">2-Year College</text>
<text x="1045.6" y="711.5" font-size="14.245000000000001" fill="#38363c" font-weight="normal" font-style="normal" text-anchor="end" stroke="#38363c" stroke-width="0.4"  textLength="101.32" lengthAdjust="spacingAndGlyphs">4-Year College</text>
<text x="1045.6" y="737" font-size="14.245000000000001" fill="#38363c" font-weight="normal" font-style="normal" text-anchor="end" stroke="#38363c" stroke-width="0.4"  textLength="112.50" lengthAdjust="spacingAndGlyphs">Master's Degree</text>
<text x="1045.6" y="765.3" font-size="14.245000000000001" fill="#38363c" font-weight="normal" font-style="normal" text-anchor="end" stroke="#38363c" stroke-width="0.4"  textLength="38.52" lengthAdjust="spacingAndGlyphs">Other</text>
<text x="1065" y="802.8" font-size="13.5" fill="#625d68" font-weight="normal" font-style="normal" text-anchor="middle" stroke="#625d68" stroke-width="0.35" >0</text>
<text x="1125" y="802.8" font-size="13.5" fill="#625d68" font-weight="normal" font-style="normal" text-anchor="middle" stroke="#625d68" stroke-width="0.35" >2</text>
<text x="1185.2" y="802.8" font-size="13.5" fill="#625d68" font-weight="normal" font-style="normal" text-anchor="middle" stroke="#625d68" stroke-width="0.35" >4</text>
<text x="1244" y="802.8" font-size="13.5" fill="#625d68" font-weight="normal" font-style="normal" text-anchor="middle" stroke="#625d68" stroke-width="0.35" >6</text>
<text x="1303.6" y="802.8" font-size="13.5" fill="#625d68" font-weight="normal" font-style="normal" text-anchor="middle" stroke="#625d68" stroke-width="0.35" >8</text>
<text x="1364.3" y="802.8" font-size="13.5" fill="#625d68" font-weight="normal" font-style="normal" text-anchor="middle" stroke="#625d68" stroke-width="0.35" >10</text>
</g>
</svg>
</body></html>
